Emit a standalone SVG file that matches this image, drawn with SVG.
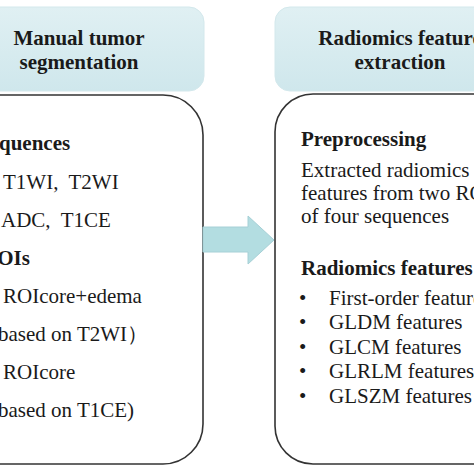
<svg xmlns="http://www.w3.org/2000/svg" width="474" height="474" viewBox="0 0 474 474">
<defs>
<linearGradient id="hdr" x1="0" y1="0" x2="0" y2="1">
<stop offset="0" stop-color="#e0f0f3"/>
<stop offset="1" stop-color="#cfe7ec"/>
</linearGradient>
<style>
.hdr{fill:url(#hdr);stroke:#d3e8ec;stroke-width:1}
.body{fill:#ffffff;stroke:#333333;stroke-width:1.6}
text{font-family:"Liberation Serif","Times New Roman",serif;font-size:21px;fill:#1a1a1a;white-space:pre}
.b{font-weight:bold}
.c{text-anchor:middle}
.arrow{fill:#b3dde1;stroke:#a6d0d6;stroke-width:1}
</style>
</defs>
<rect width="474" height="474" fill="#ffffff"/>
<g id="node-segmentation-header">
<rect class="hdr" x="-46" y="7" width="250" height="84" rx="15"/>
<text class="b c" x="79" y="45">Manual tumor</text>
<text class="b c" x="79" y="69">segmentation</text>
</g>
<g id="node-extraction-header">
<rect class="hdr" x="275" y="7" width="250" height="84" rx="15"/>
<text class="b c" x="400" y="45">Radiomics feature</text>
<text class="b c" x="400" y="69">extraction</text>
</g>
<g id="node-segmentation-body">
<rect class="body" x="-60" y="95" width="263" height="369" rx="40"/>
<text class="b" x="-22" y="150">Sequences</text>
<text x="3" y="189">T1WI,  T2WI</text>
<text x="1" y="227">ADC,  T1CE</text>
<text class="b" x="-18" y="265">ROIs</text>
<text x="3" y="303">ROIcore+edema</text>
<text x="-9" y="341">(based on T2WI）</text>
<text x="3" y="379">ROIcore</text>
<text x="-9" y="417">(based on T1CE)</text>
</g>
<g id="node-extraction-body">
<rect class="body" x="275" y="94" width="262" height="370" rx="38"/>
<text class="b" x="301" y="146">Preprocessing</text>
<text x="301" y="177">Extracted radiomics</text>
<text x="301" y="200">features from two ROIs</text>
<text x="301" y="223">of four sequences</text>
<text class="b" x="301" y="275">Radiomics features</text>
<text x="299" y="305">•</text>
<text x="329" y="305">First-order features</text>
<text x="299" y="329">•</text>
<text x="329" y="329">GLDM features</text>
<text x="299" y="354">•</text>
<text x="329" y="354">GLCM features</text>
<text x="299" y="378">•</text>
<text x="329" y="378">GLRLM features</text>
<text x="299" y="403">•</text>
<text x="329" y="403">GLSZM features</text>
</g>
<g id="connectors">
<polygon class="arrow" points="203,227 248,227 248,216 274,240 248,264 248,252 203,252"/>
</g>
</svg>
